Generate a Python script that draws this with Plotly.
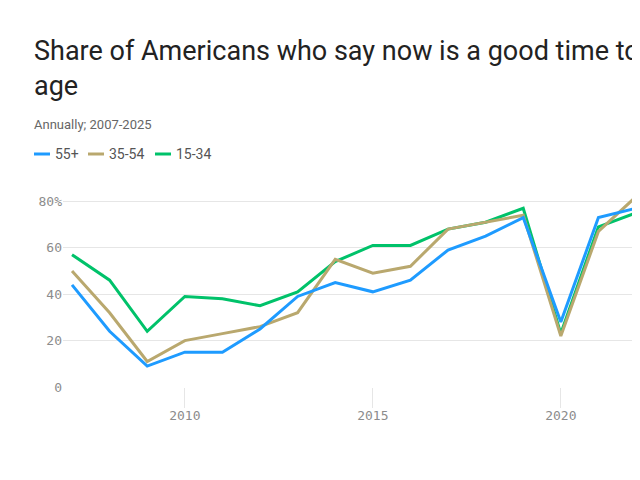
import plotly.graph_objects as go

# Survey years and shares (%) by age group
years = list(range(2007, 2026))
age_55_plus = [44, 24, 9, 15, 15, 25, 39, 45, 41, 46, 59, 65, 73, 28, 73, 77, 70, 62, 55]
age_35_54 = [50, 32, 11, 20, 23, 26, 32, 55, 49, 52, 68, 71, 74, 22, 67, 82, 72, 64, 56]
age_15_34 = [57, 46, 24, 39, 38, 35, 41, 54, 61, 61, 68, 71, 77, 23, 69, 75, 71, 65, 58]

series_names = ["55+", "35-54", "15-34"]
series_values = [age_55_plus, age_35_54, age_15_34]
series_colors = ["#1e9bff", "#b9a86e", "#00c26a"]

y_ticks = [0, 20, 40, 60, 80]
y_tick_labels = ["0", "20", "40", "60", "80%"]
x_ticks = [2010, 2015, 2020, 2025]

title_line1 = "Share of Americans who say now is a good time to find a quality job, by"
title_line2 = "age"

# the original chart runs past the right edge of the window, so the plot
# area is cut at the figure's right edge (page body adds an 8px margin)
W, H = 632, 464
L, R, T, B = 55, 0, 184, 85
plot_w = W - L - R
plot_h = H - T - B
px_per_year = 37.6
x_start = 2006.76
x_end = x_start + plot_w / px_per_year

FONT = "Roboto"


def px_x(px):
    return (px - L) / plot_w


def px_y(py):
    return 1 + (T - py) / plot_h


fig = go.Figure()
# draw in reverse so 55+ sits on top
for name, vals, col in reversed(list(zip(series_names, series_values, series_colors))):
    fig.add_trace(go.Scatter(x=years, y=vals, mode="lines", name=name,
                             line=dict(color=col, width=3), showlegend=False))

# custom legend: short swatches + labels
leg_x = [26, 80, 147]
leg_y = 146
for px, name, col in zip(leg_x, series_names, series_colors):
    fig.add_shape(type="line", xref="paper", yref="paper",
                  x0=px_x(px), x1=px_x(px + 16), y0=px_y(leg_y), y1=px_y(leg_y),
                  line=dict(color=col, width=3))
    fig.add_annotation(xref="paper", yref="paper", x=px_x(px + 19), y=px_y(leg_y),
                       text=name, showarrow=False, xanchor="left", yanchor="middle",
                       font=dict(family=FONT, size=14, color="#555"))

fig.add_annotation(xref="paper", yref="paper", x=px_x(24), y=px_y(117),
                   text="Annually; 2007-2025", showarrow=False, xanchor="left", yanchor="middle",
                   font=dict(family=FONT, size=13, color="#666"))

# second title line (wrapped word), placed with a looser line spacing
fig.add_annotation(xref="paper", yref="paper", x=px_x(24), y=px_y(78),
                   text=title_line2, showarrow=False, xanchor="left", yanchor="middle",
                   font=dict(family=FONT, size=27, color="#222"))

fig.update_layout(
    width=W, height=H,
    margin=dict(l=L, r=R, t=T, b=B),
    paper_bgcolor="white", plot_bgcolor="white",
    title=dict(text=title_line1,
               x=26 / W, xref="container", xanchor="left",
               y=1 - 33 / H, yref="container", yanchor="top",
               font=dict(family=FONT, size=27, color="#222")),
    xaxis=dict(range=[x_start, x_end], tickvals=x_ticks, showgrid=False, zeroline=False,
               ticks="outside", ticklen=20, tickcolor="#e6e6e6", tickwidth=1,
               showline=False, ticklabelstandoff=-4,
               tickfont=dict(family="DejaVu Sans Mono", size=13, color="#8c8c8c")),
    yaxis=dict(range=[0, 84], tickvals=y_ticks, ticktext=y_tick_labels,
               showgrid=True, gridcolor="#e6e6e6", gridwidth=1, zeroline=False,
               ticks="", showline=False,
               tickfont=dict(family="DejaVu Sans Mono", size=13, color="#8c8c8c")),
    hovermode=False,
)

fig.write_html("out.html")
